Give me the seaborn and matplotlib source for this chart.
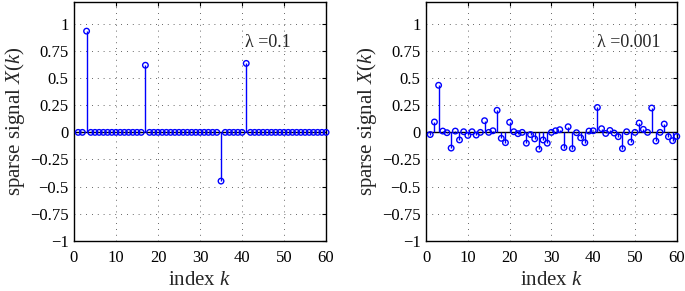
import numpy as np
import pandas as pd
import matplotlib
matplotlib.use("Agg")
import matplotlib.pyplot as plt
import seaborn as sns

# ---------------------- DATA ----------------------
k = np.arange(1, 61)

# lambda = 0.1 : only four non-zero coefficients
x_sparse = np.zeros(60)
x_sparse[3 - 1] = 0.935
x_sparse[17 - 1] = 0.62
x_sparse[35 - 1] = -0.45
x_sparse[41 - 1] = 0.637

# lambda = 0.001
x_dense = np.array([
    -0.02, 0.096, 0.435, 0.012, -0.003, -0.145, 0.012, -0.07, 0.006, -0.028,
    0.006, -0.025, 0.0, 0.108, 0.0, 0.015, 0.204, -0.055, -0.095, 0.093,
    0.006, -0.012, 0.0, -0.1, -0.02, -0.06, -0.155, -0.07, -0.1, 0.0,
    0.015, 0.025, -0.14, 0.052, -0.15, -0.003, -0.05, -0.095, 0.012, 0.015,
    0.23, 0.034, -0.01, 0.018, -0.006, -0.04, -0.15, 0.006, -0.09, 0.0,
    0.086, 0.028, 0.0, 0.225, -0.08, 0.0, 0.077, -0.04, -0.077, -0.037,
])

lambdas = ["0.1", "0.001"]
yticks = [-1, -0.75, -0.5, -0.25, 0, 0.25, 0.5, 0.75, 1]
ytick_labels = ["\u22121", "\u22120.75", "\u22120.5", "\u22120.25", "0",
                "0.25", "0.5", "0.75", "1"]
xticks = [0, 10, 20, 30, 40, 50, 60]

# ---------------------- STYLE ----------------------
sns.set_style("white")
plt.rcParams["font.family"] = ["Liberation Serif", "DejaVu Serif"]
plt.rcParams["mathtext.fontset"] = "custom"
plt.rcParams["mathtext.rm"] = "Liberation Serif"
plt.rcParams["mathtext.it"] = "Liberation Serif:italic"

fig = plt.figure(figsize=(6.85, 2.91), dpi=100)
axes = [fig.add_axes([0.108, 0.173, 0.368, 0.8186]),
        fig.add_axes([0.622, 0.173, 0.366, 0.8186])]

blue = "#0000ff"

for ax, vals, lam in zip(axes, [x_sparse, x_dense], lambdas):
    df = pd.DataFrame({"k": k, "x": vals})
    ax.vlines(df["k"], 0, df["x"], color=blue, lw=1.0, zorder=2)
    ax.axhline(0, color="black", lw=1.0, zorder=1)
    sns.scatterplot(data=df, x="k", y="x", ax=ax, marker="o", s=16,
                    facecolor="none", edgecolor=blue, linewidth=1.0,
                    zorder=3, clip_on=False)

    ax.set_xlim(0, 60)
    ax.set_ylim(-1, 1.2)
    ax.set_xticks(xticks)
    ax.set_yticks(yticks)
    ax.set_yticklabels(ytick_labels)
    ax.tick_params(axis="both", direction="in", top=True, right=True,
                   length=3, labelsize=12, color="black", labelcolor="black")
    ax.tick_params(axis="x", pad=7)
    ax.tick_params(axis="y", pad=4)
    ax.grid(True, color="#333333", linestyle=(0, (1, 6)), lw=0.6)
    for sp in ax.spines.values():
        sp.set_visible(True)
        sp.set_color("black")
        sp.set_linewidth(1.0)

    ax.set_xlabel("index $\\mathit{k}$", fontsize=15, labelpad=3)
    ax.set_ylabel("sparse signal $\\mathit{X(k)}$", fontsize=15, labelpad=2)
    ax.text(40.8, 0.83, "\u03bb =" + lam, fontsize=13, ha="left", va="center")

fig.savefig("out.png", dpi=100)
